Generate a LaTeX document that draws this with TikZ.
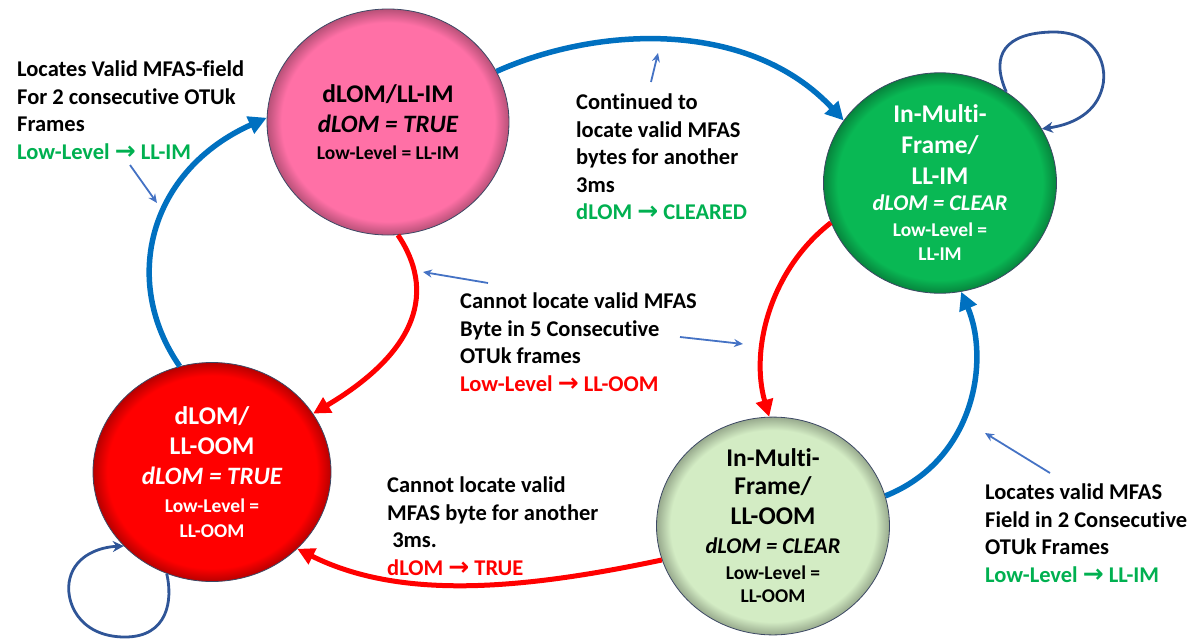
\documentclass[tikz,border=0pt]{standalone}
\usepackage{fontspec}
\setmainfont{Carlito}[Ligatures={NoCommon}]
\newfontfamily\arrowfont{DejaVu Sans}
\usetikzlibrary{shapes.geometric,arrows.meta}
\definecolor{pinkc}{RGB}{255,112,166}
\definecolor{greenc}{RGB}{9,184,84}
\definecolor{redc}{RGB}{255,0,0}
\definecolor{lgreenc}{RGB}{211,236,196}
\colorlet{pinkd}{pinkc!72!black}
\colorlet{greend}{greenc!72!black}
\colorlet{redd}{redc!72!black}
\colorlet{lgreend}{lgreenc!72!black}
\definecolor{bordc}{RGB}{60,72,100}
\definecolor{arrblue}{RGB}{0,112,192}
\definecolor{arrred}{RGB}{255,0,0}
\definecolor{loopblue}{RGB}{47,85,151}
\definecolor{noteblue}{RGB}{68,114,196}
\definecolor{txtgreen}{RGB}{0,176,80}
\definecolor{txtred}{RGB}{255,0,0}
\pgfdeclareradialshading{pinkshade}{\pgfpoint{0bp}{0bp}}{color(0bp)=(pinkc); color(22bp)=(pinkc); color(25bp)=(pinkd); color(50bp)=(pinkd)}
\pgfdeclareradialshading{greenshade}{\pgfpoint{0bp}{0bp}}{color(0bp)=(greenc); color(22bp)=(greenc); color(25bp)=(greend); color(50bp)=(greend)}
\pgfdeclareradialshading{redshade}{\pgfpoint{0bp}{0bp}}{color(0bp)=(redc); color(22bp)=(redc); color(25bp)=(redd); color(50bp)=(redd)}
\pgfdeclareradialshading{lgreenshade}{\pgfpoint{0bp}{0bp}}{color(0bp)=(lgreenc); color(22bp)=(lgreenc); color(25bp)=(lgreend); color(50bp)=(lgreend)}
\newcommand{\rarr}{{\arrowfont\bfseries\fontsize{25}{27.5}\selectfont →}}
\newcommand{\bigf}{\fontsize{25.5}{31}\selectfont}
\newcommand{\itf}{\fontsize{25}{31}\selectfont\itshape}
\newcommand{\itsf}{\fontsize{22.5}{31}\selectfont\itshape}
\newcommand{\smf}{\fontsize{19.5}{24}\selectfont}
\tikzset{
  statebox/.style={ellipse, inner sep=0pt, align=center, draw=bordc, line width=0.8pt,
    font=\fontsize{25.5}{31}\selectfont\bfseries},
  notetext/.style={inner sep=0pt, align=left, anchor=west,
    font=\fontsize{22.5}{27.5}\selectfont\bfseries},
  bluearrow/.style={draw=arrblue, line width=5.5pt, -{Triangle[length=18pt,width=18pt]}},
  redarrow/.style={draw=arrred, line width=5pt, -{Triangle[length=17pt,width=17pt]}},
  looparrow/.style={draw=loopblue, line width=2.8pt, -{Stealth[length=11pt,width=11pt]}},
  notearrow/.style={draw=noteblue, line width=1.8pt, -{Stealth[length=9pt,width=8pt]}}
}
\begin{document}
\begin{tikzpicture}[x=1pt,y=-1pt]
\useasboundingbox (0,0) rectangle (1200,643);
% states
\node[statebox, shading=pinkshade, minimum width=242pt, minimum height=226pt] (pink) at (388,122)
  {\bigf dLOM/LL-IM\\[-1pt] \itf dLOM = TRUE\\[-4.7pt] \smf Low-Level = LL-IM};
\node[statebox, shading=greenshade, text=white, minimum width=233pt, minimum height=201pt] (green) at (940,183)
  {\bigf In-Multi-\\ \bigf Frame/\\ \bigf LL-IM\\[-5pt] \itsf dLOM = CLEAR\\[-5pt] \smf Low-Level =\\[-7pt] \smf LL-IM};
\node[statebox, shading=redshade, text=white, minimum width=238pt, minimum height=219pt] (red) at (212,472)
  {\bigf dLOM/\\[-1pt] \bigf LL-OOM\\[-1pt] \itf dLOM = TRUE\\[-3.7pt] \smf Low-Level =\\[-6pt] \smf LL-OOM};
\node[statebox, shading=lgreenshade, minimum width=233pt, minimum height=203pt] (lg) at (773,526)
  {\bigf In-Multi-\\[-3pt] \bigf Frame/\\[-1pt] \bigf LL-OOM\\[-2pt] \itsf dLOM = CLEAR\\[-5pt] \smf Low-Level =\\[-8pt] \smf LL-OOM};
% labels
\node[notetext] (t1) at (17,110)
  {Locates Valid MFAS-field\\ For 2 consecutive OTUk\\ Frames\\ \color{txtgreen}Low-Level \rarr\ LL-IM};
\node[notetext] (t2) at (576,157)
  {Continued to\\ locate valid MFAS\\ bytes for another\\ 3ms\\ \color{txtgreen}dLOM \rarr\ CLEARED};
\node[notetext] (t3) at (460,342)
  {Cannot locate valid MFAS\\ Byte in 5 Consecutive\\ OTUk frames\\ \color{txtred}Low-Level \rarr\ LL-OOM};
\node[notetext] (t4) at (387,526)
  {Cannot locate valid\\ MFAS byte for another\\ \ 3ms.\\ \color{txtred}dLOM \rarr\ TRUE};
\node[notetext] (t5) at (985,533)
  {Locates valid MFAS\\ Field in 2 Consecutive\\ OTUk Frames\\ \color{txtgreen}Low-Level \rarr\ LL-IM};
% transitions
\draw[bluearrow] (red.107) .. controls (120,280) and (150,170) .. (pink.178);
\draw[bluearrow] (pink.25) .. controls (600,25) and (750,20) .. (green.147);
\draw[redarrow] (pink.-85) .. controls (435,290) and (420,350) .. (red.30);
\draw[redarrow] (green.200) .. controls (770,270) and (750,350) .. (lg.92);
\draw[redarrow] (lg.197) .. controls (520,590) and (400,600) .. (red.-42);
\draw[bluearrow] (lg.15) .. controls (975,460) and (990,360) .. (green.-79);
% self loops
\draw[looparrow] (green.54) .. controls (990,55) and (1005,33) .. (1052,32)
  .. controls (1098,31) and (1110,68) .. (1101,92)
  .. controls (1093,115) and (1070,125) .. (green.28);
\draw[looparrow] (red.-114) .. controls (173,600) and (168,637) .. (125,637)
  .. controls (78,637) and (64,600) .. (70,578)
  .. controls (76,555) and (100,547) .. (red.-140);
% note pointers
\coordinate (a1s) at (130,165); \coordinate (a1e) at (157,203);
\coordinate (a2s) at (651,82);  \coordinate (a2e) at (658,53);
\coordinate (a3s) at (488,283); \coordinate (a3e) at (423,272);
\coordinate (a4s) at (680,337); \coordinate (a4e) at (743,344);
\coordinate (a5s) at (1050,473); \coordinate (a5e) at (985,433);
\draw[notearrow] (a1s) -- (a1e);
\draw[notearrow] (a2s) -- (a2e);
\draw[notearrow] (a3s) -- (a3e);
\draw[notearrow] (a4s) -- (a4e);
\draw[notearrow] (a5s) -- (a5e);
\end{tikzpicture}
\end{document}
